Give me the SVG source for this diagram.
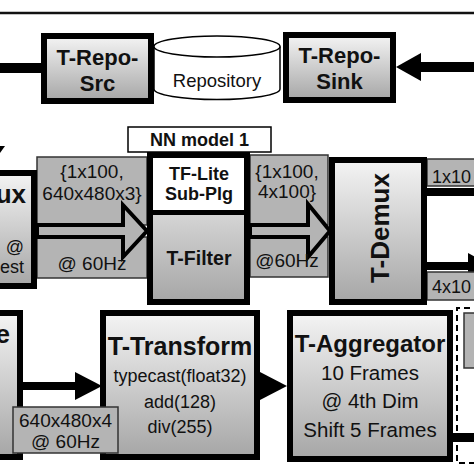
<svg xmlns="http://www.w3.org/2000/svg" width="474" height="474" viewBox="0 0 474 474">
<defs>
<linearGradient id="g" x1="0" y1="0" x2="0" y2="1">
<stop offset="0" stop-color="#f4f4f4"/>
<stop offset="1" stop-color="#a6a6a6"/>
</linearGradient>
<style>
.box{fill:url(#g);stroke:#000;stroke-width:6}
.lbl{fill:#b4b4b4;stroke:#333;stroke-width:1.5}
.blk{fill:#b4b4b4;stroke:#000;stroke-width:4;stroke-linejoin:miter}
.ln{stroke:#000;fill:none}
.t{font-family:"Liberation Sans",Arial,sans-serif;fill:#111;text-anchor:middle}
.b{font-weight:bold}
.e{text-anchor:end}
.s{text-anchor:start}
</style>
</defs>
<rect width="474" height="474" fill="#fff"/>
<line x1="0" y1="13" x2="474" y2="13" stroke="#111" stroke-width="2.5"/>

<g id="connectors">
<line class="ln" x1="0" y1="68" x2="44" y2="68" stroke-width="10"/>
<line class="ln" x1="474" y1="67" x2="419" y2="67" stroke-width="10"/>
<polygon points="421,53 396,67 421,81" fill="#000"/>
<polygon points="-4,146 5,146 0,153" fill="#000"/>
<rect class="lbl" x="37" y="157" width="110" height="68"/>
<rect class="lbl" x="37" y="237" width="110" height="41"/>
<polygon class="blk" points="37,225 123,225 123,205 147,231 123,257 123,237 37,237"/>
<rect class="lbl" x="250" y="155" width="78" height="70"/>
<rect class="lbl" x="250" y="237" width="78" height="40"/>
<polygon class="blk" points="250,225 308,225 308,204 330,231 308,257 308,237 250,237"/>
<rect class="lbl" x="427" y="159" width="52" height="27"/>
<line class="ln" x1="424" y1="192" x2="474" y2="192" stroke-width="8"/>
<line class="ln" x1="424" y1="266" x2="474" y2="266" stroke-width="8"/>
<polygon points="468,253 492,266 468,279" fill="#000"/>
<rect class="lbl" x="427" y="272" width="52" height="28"/>
<line class="ln" x1="20" y1="386" x2="78" y2="386" stroke-width="8"/>
<polygon points="75,372 102,386 75,400" fill="#000"/>
<polygon points="260,372 287,386 260,400" fill="#000"/>
<line class="ln" x1="450" y1="437.5" x2="474" y2="437.5" stroke-width="9"/>
</g>

<g id="repository">
<path d="M154,46.5 L154,89 A63,10.5 0 0 0 280,89 L280,46.5" fill="#fff" stroke="#000" stroke-width="1.5"/>
<ellipse cx="217" cy="46.5" rx="63" ry="10.5" fill="#fff" stroke="#000" stroke-width="1.5"/>
<text class="t" x="217" y="87" font-size="18.5">Repository</text>
</g>

<g id="t-repo-src">
<rect class="box" x="44" y="36" width="107" height="65"/>
<text class="t b" x="97.5" y="65" font-size="22">T-Repo-</text>
<text class="t b" x="97.5" y="91" font-size="22">Src</text>
</g>

<g id="t-repo-sink">
<rect class="box" x="286" y="35" width="107" height="65"/>
<text class="t b" x="339.5" y="63" font-size="22">T-Repo-</text>
<text class="t b" x="339.5" y="89" font-size="22">Sink</text>
</g>

<g id="t-demux-left">
<rect class="box" x="-20" y="173" width="54" height="113"/>
<text class="t b e" x="26" y="203" font-size="26">ux</text>
<text class="t e" x="24" y="253" font-size="18">@</text>
<text class="t e" x="24" y="273" font-size="18">est</text>
</g>

<g id="labels-mid">
<text class="t" x="92" y="178" font-size="19">{1x100,</text>
<text class="t" x="92" y="200" font-size="19">640x480x3}</text>
<text class="t" x="92" y="270" font-size="19">@ 60Hz</text>
<text class="t" x="287" y="178" font-size="19">{1x100,</text>
<text class="t" x="287" y="198" font-size="19">4x100}</text>
<text class="t" x="287" y="267" font-size="19">@60Hz</text>
<text class="t s" x="432" y="183" font-size="18">1x10</text>
<text class="t s" x="432" y="293" font-size="18">4x10</text>
</g>

<g id="nn-model">
<rect x="128" y="127" width="143" height="25" fill="#fff" stroke="#000" stroke-width="1.5"/>
<text class="t b" x="199.5" y="146" font-size="18">NN model 1</text>
</g>

<g id="t-filter">
<rect class="box" x="150" y="155" width="97" height="147"/>
<rect x="153" y="158" width="91" height="54" fill="#fff"/>
<line class="ln" x1="150" y1="212.5" x2="247" y2="212.5" stroke-width="5"/>
<text class="t b" x="199" y="180" font-size="18">TF-Lite</text>
<text class="t b" x="199" y="200" font-size="18">Sub-Plg</text>
<text class="t b" x="199" y="265" font-size="19.5">T-Filter</text>
</g>

<g id="t-demux">
<rect class="box" x="332" y="160" width="92" height="142"/>
<text class="t b" transform="translate(389,228) rotate(-90)" x="0" y="0" font-size="26">T-Demux</text>
</g>

<g id="left-bottom">
<rect class="box" x="-20" y="313" width="40" height="144"/>
<text class="t b e" x="10" y="343" font-size="26">e</text>
</g>

<g id="t-transform">
<rect class="box" x="103" y="313" width="154" height="144"/>
<text class="t b" x="180" y="355" font-size="25">T-Transform</text>
<text class="t" x="180" y="382" font-size="18">typecast(float32)</text>
<text class="t" x="180" y="408" font-size="18">add(128)</text>
<text class="t" x="180" y="433" font-size="18">div(255)</text>
</g>

<g id="label-bottom">
<rect class="lbl" x="13" y="407" width="105" height="46"/>
<text class="t" x="65.5" y="427" font-size="19">640x480x4</text>
<text class="t" x="65.5" y="448" font-size="19">@ 60Hz</text>
</g>

<g id="t-aggregator">
<rect class="box" x="290" y="313" width="160" height="146"/>
<text class="t b" x="370" y="352" font-size="24">T-Aggregator</text>
<text class="t" x="370" y="380" font-size="20.5">10 Frames</text>
<text class="t" x="370" y="408" font-size="20.5">@ 4th Dim</text>
<text class="t" x="370" y="437" font-size="20.5">Shift 5 Frames</text>
</g>

<g id="dashed-group">
<path d="M480,308 L457,308 L457,463 L480,463" fill="none" stroke="#000" stroke-width="2" stroke-dasharray="6,4"/>
<rect class="lbl" x="464" y="313" width="20" height="55" stroke-width="2"/>
</g>
</svg>
